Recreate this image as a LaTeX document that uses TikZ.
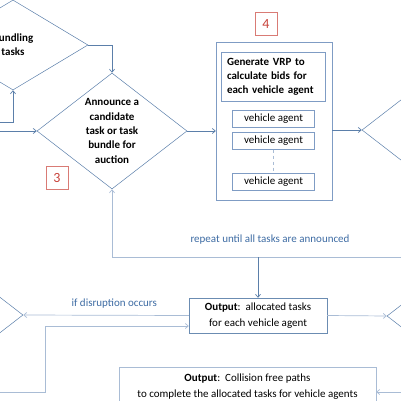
\documentclass[tikz,border=0pt]{standalone}
\usepackage{fontspec}
\setmainfont{Carlito}
\usetikzlibrary{arrows.meta,positioning,shapes.geometric}

\definecolor{flowblue}{HTML}{5B7FAA}
\definecolor{paleblue}{HTML}{A9BCD5}
\definecolor{boxblue}{HTML}{7F9CC4}
\definecolor{noteblue}{HTML}{3D6BA3}
\definecolor{numred}{HTML}{C8423A}

\tikzset{
  decision/.style={diamond, draw=flowblue, line width=0.5pt, minimum width=150pt, minimum height=116pt, inner sep=0pt},
  dtext/.style={align=center, font=\fontsize{11}{14.3}\selectfont\bfseries},
  agentbox/.style={draw=boxblue, minimum width=82pt, minimum height=17pt, inner sep=0pt, font=\fontsize{11}{13}\selectfont},
  outbox/.style={draw=boxblue, align=center, inner sep=0pt, font=\fontsize{11}{16}\selectfont},
  numbox/.style={draw=numred!70, text=numred, minimum width=22pt, minimum height=23pt, inner sep=0pt, font=\fontsize{14}{14}\selectfont},
  notetext/.style={text=noteblue, font=\fontsize{11}{12}\selectfont},
  link/.style={draw=flowblue, line width=0.7pt, -{Straight Barb[length=3pt,width=5pt]}},
  palelink/.style={link, draw=paleblue}
}

\begin{document}
\begin{tikzpicture}[x=1pt,y=-1pt]
  \useasboundingbox (0,0) rectangle (401,401);
  \clip (0,0) rectangle (401,401);

  % decision diamonds
  \node[decision, minimum height=90pt, label={[dtext]center:Bundling\\tasks}] (bundle) at (13,45) {};
  \node[decision, label={[dtext]center:Announce a\\candidate\\task or task\\bundle for\\auction}] (announce) at (112,131) {};
  \node[decision] (winner) at (437,130) {};
  \node[decision] (check) at (462,316) {};
  \node[decision] (disrupt) at (-52,315) {};

  % bidding block
  \node[draw=boxblue, minimum width=116pt, minimum height=158pt] (bids) at (274,121) {};
  \node[draw=boxblue, text width=92pt, minimum height=49pt, inner xsep=6pt, align=left,
        font=\fontsize{11}{14}\selectfont\bfseries] (vrp) at (273,76.5) {Generate VRP to\\calculate bids for\\each vehicle agent};
  \node[agentbox] (agent1) at (273.5,119) {vehicle agent};
  \node[agentbox] (agent2) at (273.5,141) {vehicle agent};
  \node[agentbox] (agent3) at (273.5,182) {vehicle agent};
  \draw[dashed, paleblue, line width=0.7pt] (agent2.south) -- (agent3.north);

  % step numbers
  \node[numbox] (num4) at (266,24) {4};
  \node[numbox] (num3) at (57,178) {3};

  % outputs
  \node[outbox, draw=flowblue!90, minimum width=138pt, minimum height=35pt] (out) at (258,315.5)
       {\textbf{Output}:\ \ allocated tasks\\for each vehicle agent};
  \node[outbox, draw=paleblue, minimum width=257pt, minimum height=40pt] (paths) at (247.5,387)
       {\textbf{Output}:\ \ Collision free paths\\to complete the allocated tasks for vehicle agents};

  % connectors
  \coordinate (in1) at (0,131);
  \coordinate (in2) at (0,122);
  \coordinate (rep) at (401,257);
  \coordinate (in3) at (0,392);
  \coordinate (in4) at (401,392);
  \coordinate (outin) at ([yshift=-10.5pt]out.west);

  \draw[link] (bundle.east) -| (announce.north);
  \draw[link] (in2) -| (bundle.south);
  \draw[link] (in1) -- (announce.west);
  \draw[link] (announce.east) -- (announce.east -| bids.west);
  \draw[link] (bids.east |- winner.west) -- (winner.west);

  \draw[palelink] (rep) -| (announce.south);
  \draw[link] (out.north |- rep) -- (out.north);
  \node[notetext] (replabel) at (270,240) {repeat until all tasks are announced};

  \draw[palelink] (out.west) -- (disrupt.east)
    node[notetext, pos=0.45, above=3pt] (dislabel) {if disruption occurs};
  \draw[palelink] (in3) -- (45,392) |- (outin);
  \draw[palelink] (out.east) -- (check.west);
  \draw[palelink] (in4) -- (in4 -| paths.east);
\end{tikzpicture}
\end{document}
